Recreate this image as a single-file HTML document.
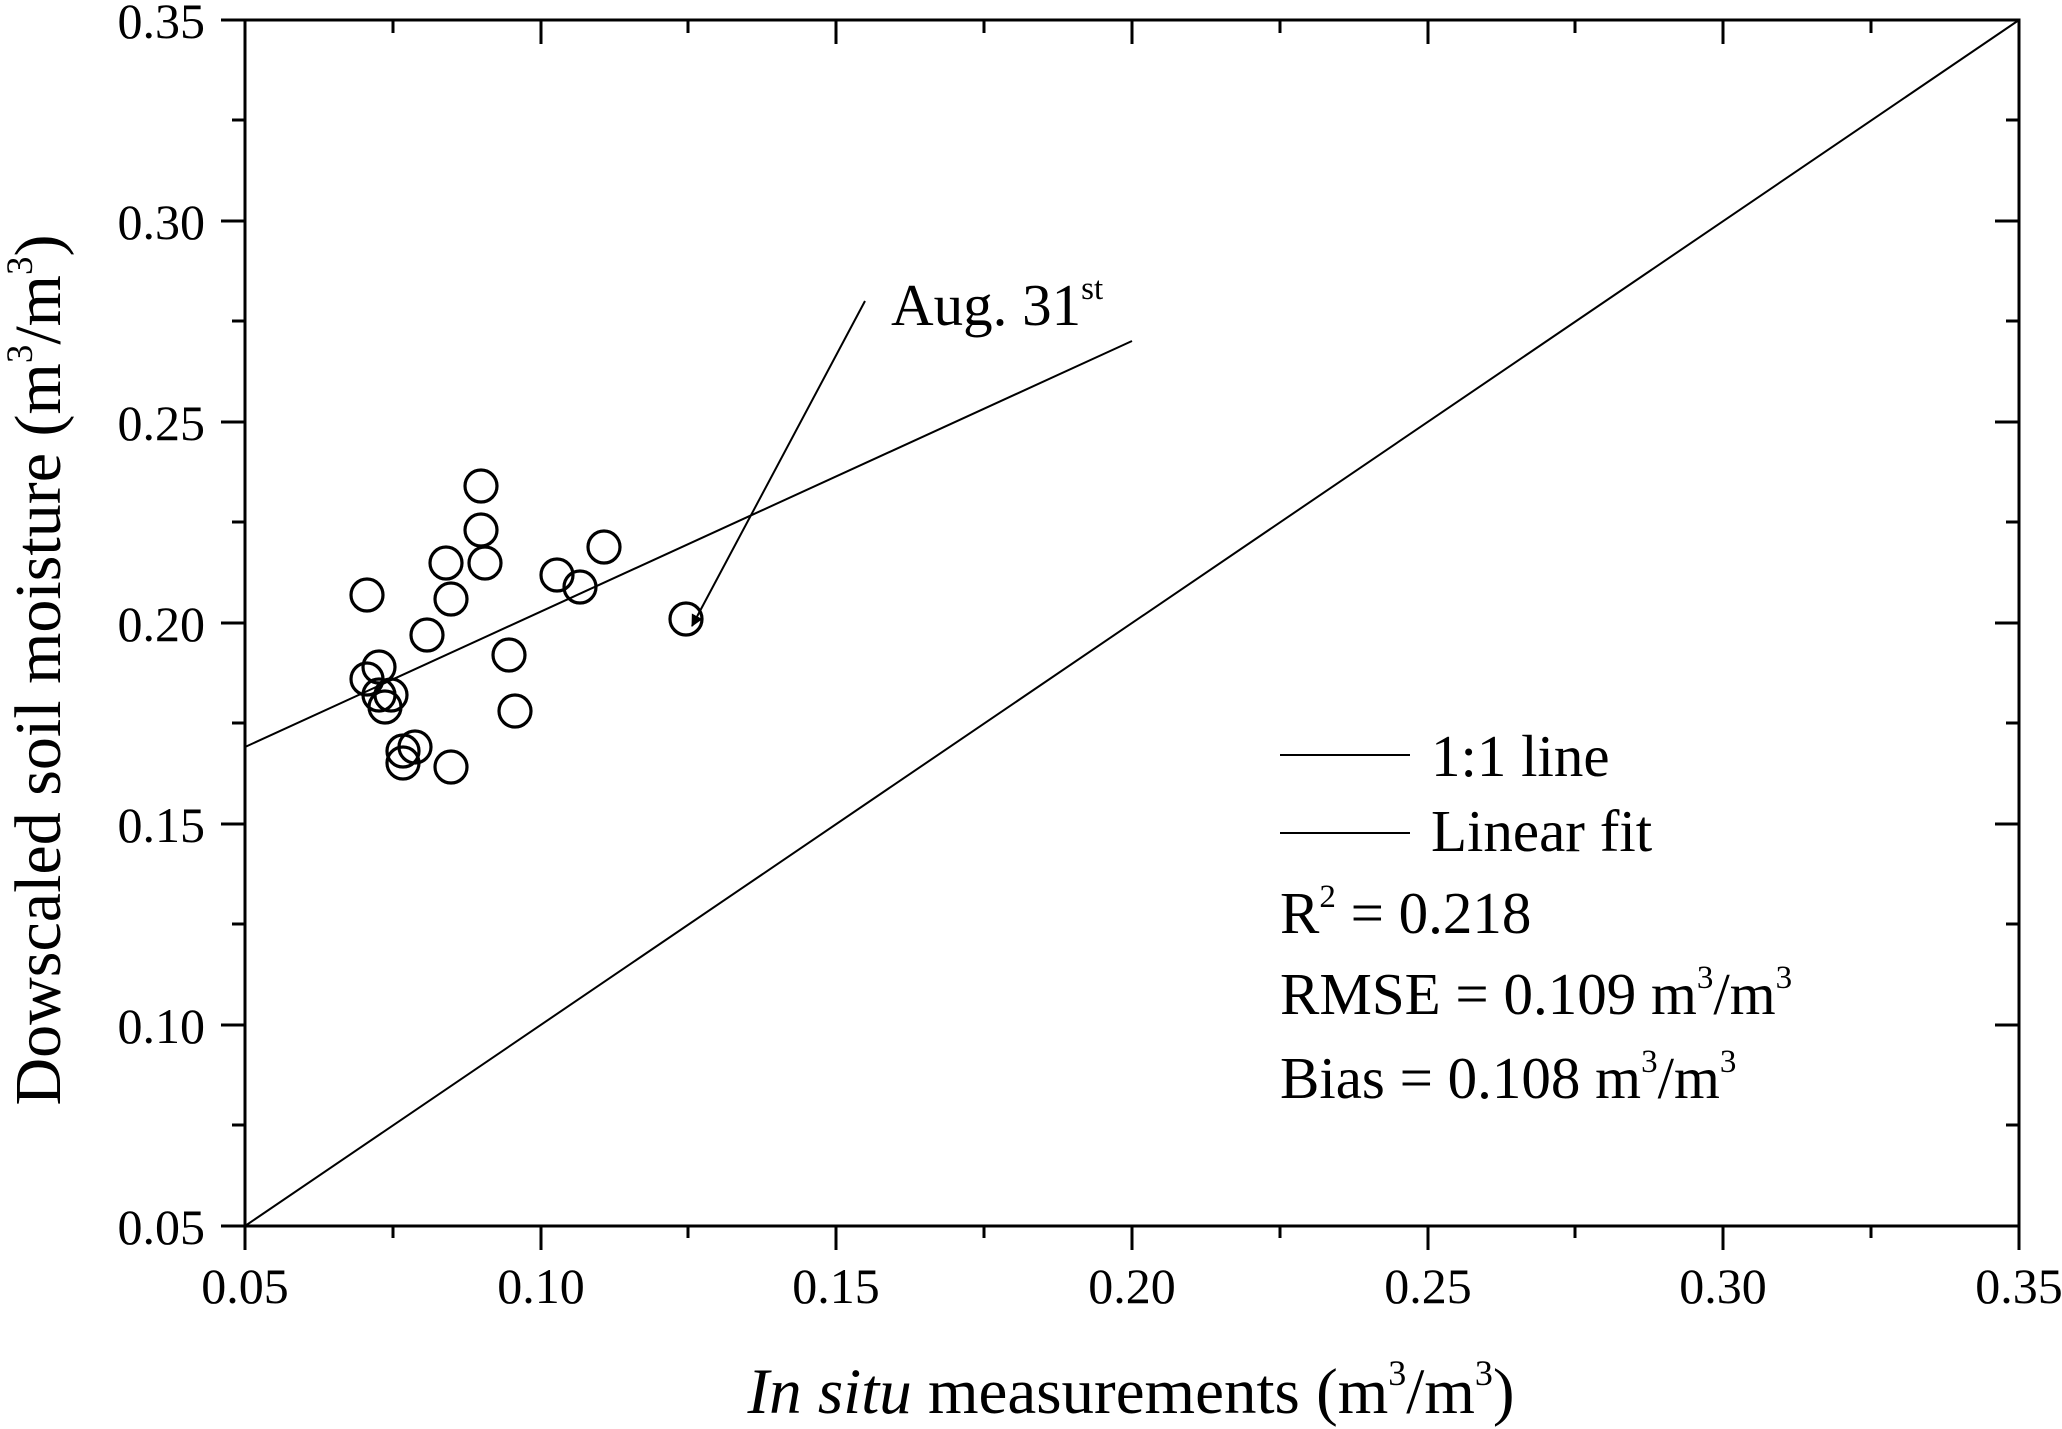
<!DOCTYPE html>
<html><head><meta charset="utf-8"><style>
html,body{margin:0;padding:0;background:#fff}
svg{display:block}
text{font-family:"Liberation Serif",serif;fill:#000}
</style></head><body>
<svg width="2062" height="1429" viewBox="0 0 2062 1429" xmlns="http://www.w3.org/2000/svg">
<defs><marker id="ah" markerWidth="12" markerHeight="12" refX="11" refY="6" orient="auto" markerUnits="userSpaceOnUse"><path d="M0,0 L12,6 L0,12 z" fill="#000"/></marker></defs>
<rect x="245" y="20" width="1774" height="1206" fill="none" stroke="#000" stroke-width="3"/>
<g stroke="#000" stroke-width="3">
<line x1="245" y1="1226" x2="245" y2="1250"/><line x1="541" y1="1226" x2="541" y2="1250"/><line x1="836" y1="1226" x2="836" y2="1250"/><line x1="1132" y1="1226" x2="1132" y2="1250"/><line x1="1428" y1="1226" x2="1428" y2="1250"/><line x1="1723" y1="1226" x2="1723" y2="1250"/><line x1="2019" y1="1226" x2="2019" y2="1250"/>
<line x1="393" y1="1226" x2="393" y2="1238"/><line x1="688" y1="1226" x2="688" y2="1238"/><line x1="984" y1="1226" x2="984" y2="1238"/><line x1="1280" y1="1226" x2="1280" y2="1238"/><line x1="1575" y1="1226" x2="1575" y2="1238"/><line x1="1871" y1="1226" x2="1871" y2="1238"/>
<line x1="541" y1="20" x2="541" y2="44"/><line x1="836" y1="20" x2="836" y2="44"/><line x1="1132" y1="20" x2="1132" y2="44"/><line x1="1428" y1="20" x2="1428" y2="44"/><line x1="1723" y1="20" x2="1723" y2="44"/>
<line x1="393" y1="20" x2="393" y2="33"/><line x1="688" y1="20" x2="688" y2="33"/><line x1="984" y1="20" x2="984" y2="33"/><line x1="1280" y1="20" x2="1280" y2="33"/><line x1="1575" y1="20" x2="1575" y2="33"/><line x1="1871" y1="20" x2="1871" y2="33"/>
<line x1="221" y1="20" x2="245" y2="20"/><line x1="221" y1="221" x2="245" y2="221"/><line x1="221" y1="422" x2="245" y2="422"/><line x1="221" y1="623" x2="245" y2="623"/><line x1="221" y1="824" x2="245" y2="824"/><line x1="221" y1="1025" x2="245" y2="1025"/><line x1="221" y1="1226" x2="245" y2="1226"/>
<line x1="232" y1="120" x2="245" y2="120"/><line x1="232" y1="321" x2="245" y2="321"/><line x1="232" y1="522" x2="245" y2="522"/><line x1="232" y1="723" x2="245" y2="723"/><line x1="232" y1="924" x2="245" y2="924"/><line x1="232" y1="1125" x2="245" y2="1125"/>
<line x1="1995" y1="221" x2="2019" y2="221"/><line x1="1995" y1="422" x2="2019" y2="422"/><line x1="1995" y1="623" x2="2019" y2="623"/><line x1="1995" y1="824" x2="2019" y2="824"/><line x1="1995" y1="1025" x2="2019" y2="1025"/>
<line x1="2006" y1="120" x2="2019" y2="120"/><line x1="2006" y1="321" x2="2019" y2="321"/><line x1="2006" y1="522" x2="2019" y2="522"/><line x1="2006" y1="723" x2="2019" y2="723"/><line x1="2006" y1="924" x2="2019" y2="924"/><line x1="2006" y1="1125" x2="2019" y2="1125"/>
</g>
<g font-size="50" text-anchor="end">
<text x="205" y="38">0.35</text><text x="205" y="239">0.30</text><text x="205" y="440">0.25</text><text x="205" y="641">0.20</text><text x="205" y="842">0.15</text><text x="205" y="1043">0.10</text><text x="205" y="1244">0.05</text>
</g>
<g font-size="50" text-anchor="middle">
<text x="245" y="1303">0.05</text><text x="541" y="1303">0.10</text><text x="836" y="1303">0.15</text><text x="1132" y="1303">0.20</text><text x="1428" y="1303">0.25</text><text x="1723" y="1303">0.30</text><text x="2019" y="1303">0.35</text>
</g>
<g stroke="#000" stroke-width="2" fill="none">
<line x1="245" y1="1226" x2="2019" y2="20"/>
<line x1="245" y1="747" x2="1132" y2="341"/>
<line x1="865" y1="301" x2="692" y2="626" marker-end="url(#ah)"/>
</g>
<g stroke="#000" stroke-width="3.2" fill="none">
<circle cx="367" cy="595" r="16"/><circle cx="481" cy="486" r="16"/><circle cx="481" cy="530" r="16"/><circle cx="446" cy="563" r="16"/><circle cx="485" cy="563" r="16"/><circle cx="451" cy="599" r="16"/><circle cx="427" cy="635" r="16"/><circle cx="604" cy="547" r="16"/><circle cx="557" cy="575" r="16"/><circle cx="580" cy="587" r="16"/><circle cx="686" cy="619" r="16"/><circle cx="509" cy="655" r="16"/><circle cx="515" cy="711" r="16"/><circle cx="379" cy="667" r="16"/><circle cx="367" cy="679" r="16"/><circle cx="391" cy="695" r="16"/><circle cx="379" cy="695" r="16"/><circle cx="385" cy="707" r="16"/><circle cx="415" cy="747" r="16"/><circle cx="403" cy="751" r="16"/><circle cx="403" cy="763" r="16"/><circle cx="451" cy="767" r="16"/>
</g>
<text x="891" y="325" font-size="59">Aug. 31<tspan font-size="33" dy="-26">st</tspan></text>
<g stroke="#000" stroke-width="2"><line x1="1280" y1="755" x2="1410" y2="755"/><line x1="1280" y1="833" x2="1410" y2="833"/></g>
<g font-size="59">
<text x="1431" y="776">1:1 line</text>
<text x="1431" y="851">Linear fit</text>
<text x="1280" y="933">R<tspan font-size="33" dy="-26">2</tspan><tspan dy="26"> = 0.218</tspan></text>
<text x="1280" y="1014">RMSE = 0.109 m<tspan font-size="33" dy="-26">3</tspan><tspan dy="26">/m</tspan><tspan font-size="33" dy="-26">3</tspan></text>
<text x="1280" y="1098">Bias = 0.108 m<tspan font-size="33" dy="-26">3</tspan><tspan dy="26">/m</tspan><tspan font-size="33" dy="-26">3</tspan></text>
</g>
<text x="1131" y="1413" font-size="65" text-anchor="middle"><tspan font-style="italic">In situ</tspan> measurements (m<tspan font-size="36" dy="-28">3</tspan><tspan dy="28">/m</tspan><tspan font-size="36" dy="-28">3</tspan><tspan dy="28">)</tspan></text>
<text transform="translate(60,670) rotate(-90)" font-size="66" text-anchor="middle">Dowscaled soil moisture (m<tspan font-size="37" dy="-28">3</tspan><tspan dy="28">/m</tspan><tspan font-size="37" dy="-28">3</tspan><tspan dy="28">)</tspan></text>
</svg>
</body></html>
